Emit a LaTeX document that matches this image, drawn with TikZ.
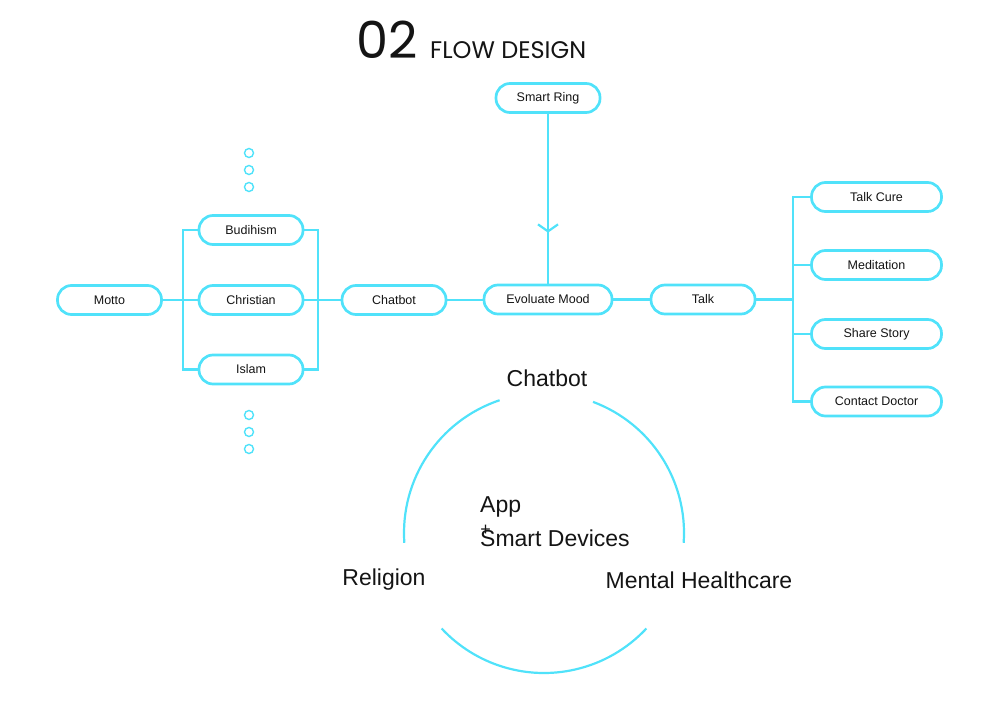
\documentclass[tikz,border=0pt]{standalone}
\usepackage{fontspec}
\setmainfont{Liberation Sans}
\newfontfamily\titlefont{Poppins}
\usetikzlibrary{arrows.meta,decorations.markings}
\definecolor{cy}{RGB}{80,226,250}
\definecolor{ink}{RGB}{20,20,20}
\begin{document}
\begin{tikzpicture}[x=1pt,y=-1pt,
  pill/.style={draw=cy,line width=2.7pt,rounded corners=14pt,minimum width=104pt,minimum height=29pt,inner sep=0pt,font=\fontsize{12.5}{14}\selectfont,text=ink},
  wide/.style={pill,minimum width=130pt},
  link/.style={draw=cy,line width=2.7pt},
  dot/.style={draw=cy,line width=1.4pt,circle,minimum size=9pt,inner sep=0pt},
  big/.style={font=\fontsize{23}{26}\selectfont,text=ink,inner sep=0pt}]
\useasboundingbox (0,0) rectangle (1000,706);
% title
\node[anchor=base west,inner sep=0pt,font=\titlefont\fontsize{51}{56}\selectfont,text=ink] (num) at (356,59) {02};
\node[anchor=base west,inner sep=0pt,font=\titlefont\fontsize{24}{26}\selectfont,text=ink] (ttl) at (430,59) {FLOW DESIGN};
% nodes
\node[pill] (ring) at (548,98) {Smart Ring};
\node[pill] (motto) at (109.5,300) {Motto};
\node[pill] (bud) at (251,230) {Budihism};
\node[pill] (chr) at (251,300) {Christian};
\node[pill] (isl) at (251,369.5) {Islam};
\node[pill] (chat) at (394,300) {Chatbot};
\node[pill,minimum width=128pt] (mood) at (548,299.5) {Evoluate Mood};
\node[pill] (talk) at (703,299.5) {Talk};
\node[wide] (cure) at (876.5,197) {Talk Cure};
\node[wide] (med) at (876.5,265) {Meditation};
\node[wide] (share) at (876.5,334) {Share Story};
\node[wide] (doc) at (876.5,401.5) {Contact Doctor};
% left bracket
\coordinate (lb) at (183,300);
\coordinate (rb) at (318,300);
\draw[link] (motto.east) -- (chr.west);
\draw[link] (bud.west) -| (lb) |- (isl.west);
\draw[link] (bud.east) -| (rb) |- (isl.east);
\draw[link] (chr.east) -- (chat.west);
\draw[link] (chat.east) -- (chat.east -| mood.west);
\draw[link] (mood.east) -- (talk.west);
% right bracket
\coordinate (tb) at (793,299.5);
\draw[link] (talk.east) -- (tb);
\draw[link] (cure.west) -| (tb) |- (doc.west);
\draw[link] (med.west) -- (med.west -| tb);
\draw[link] (share.west) -- (share.west -| tb);
% smart ring arrow
\draw[link,postaction={decorate},decoration={markings,mark=at position 0.70 with {\arrow{Straight Barb[length=7pt,width=20pt,line width=2.2pt]}}}] (ring.south) -- (mood.north);
% dots
\foreach \y [count=\i] in {153,170,187}{\node[dot] (ua\i) at (249,\y) {};}
\foreach \y [count=\i] in {415,432,449}{\node[dot] (la\i) at (249,\y) {};}
% circle
\coordinate (cc) at (544,533);
\draw[cy,line width=2.2pt] ([shift={(108.5:140pt)}]cc) arc[start angle=108.5,end angle=184,radius=140pt];
\draw[cy,line width=2.2pt] ([shift={(69.5:140pt)}]cc) arc[start angle=69.5,end angle=-4,radius=140pt];
\draw[cy,line width=2.2pt] ([shift={(223:140pt)}]cc) arc[start angle=223,end angle=317,radius=140pt];
\node[big] (c1) at (547,378) {Chatbot};
\node[big] (c2) at (384,580) {Religion};
\node[big] (c3) at (699,580) {Mental Healthcare};
\node[big,anchor=base west] (app) at (480,512) {App};
\node[big,anchor=base west] (sd) at (480,546) {Smart Devices};
\node[font=\fontsize{18}{18}\selectfont,text=ink,inner sep=0pt] (plus) at (485.5,530) {+};
\end{tikzpicture}
\end{document}
